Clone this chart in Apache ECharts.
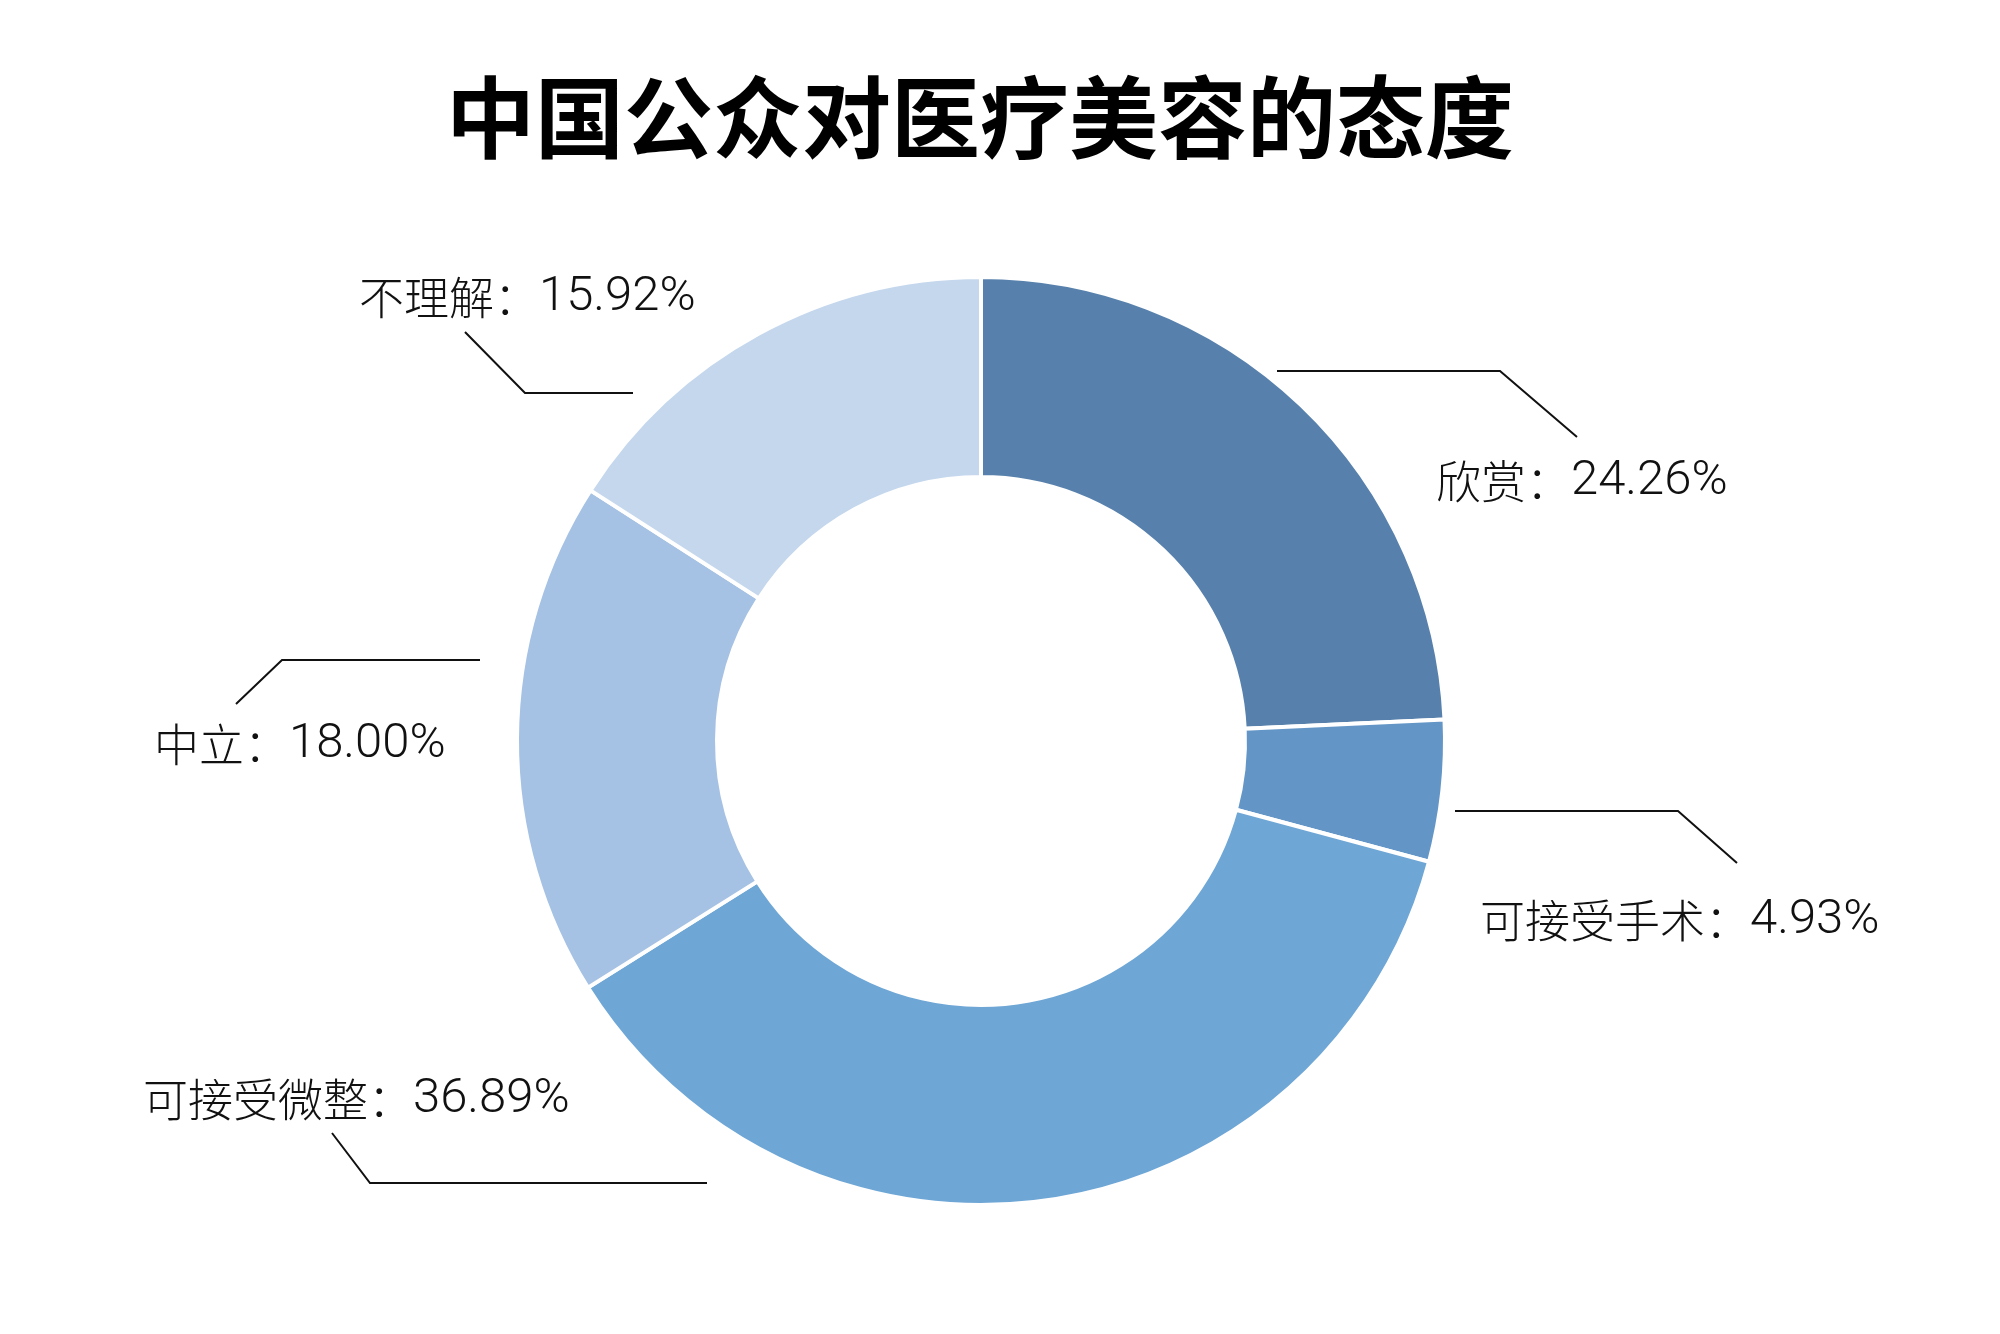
<!DOCTYPE html>
<html>
<head>
<meta charset="utf-8">
<script src="https://cdn.jsdelivr.net/npm/echarts@6/dist/echarts.min.js"></script>
<style>
html,body{margin:0;padding:0;background:#fff;}
#chart{width:2000px;height:1334px;}
</style>
</head>
<body>
<div id="chart"></div>
<script>
// ---- data ----
var titleText = '中国公众对医疗美容的态度';
var categories = ['欣赏', '可接受手术', '可接受微整', '中立', '不理解'];
var values = [24.26, 4.93, 36.89, 18.00, 15.92];
var colors = ['#5781ac', '#6396c7', '#6ea6d6', '#a5c1e3', '#c4d7ed'];

// ---- label layout (text anchor: left x, middle y; leader line points) ----
var labelPos = [
  { x: 1436, y: 482, line: [[1277, 371], [1500, 371], [1577, 437]] },
  { x: 1480, y: 921, line: [[1455, 811], [1678, 811], [1737, 863]] },
  { x: 143, y: 1100, line: [[332, 1133], [370, 1183], [707, 1183]] },
  { x: 154, y: 745, line: [[236, 704], [282, 660], [480, 660]] },
  { x: 359, y: 298, line: [[465, 332], [525, 393], [633, 393]] }
];

var chart = echarts.init(document.getElementById('chart'), null, { renderer: 'canvas' });

var pieData = categories.map(function (c, i) {
  return { name: c, value: values[i], itemStyle: { color: colors[i] } };
});

chart.setOption({
  backgroundColor: '#ffffff',
  animation: false,
  title: {
    text: titleText,
    left: 441,
    top: 68,
    textStyle: {
      fontFamily: '"Noto Sans CJK SC", sans-serif',
      fontWeight: 'bold',
      fontSize: 89,
      color: '#000000'
    }
  },
  series: [{
    type: 'pie',
    center: [981, 741],
    radius: [264, 464],
    startAngle: 90,
    clockwise: true,
    avoidLabelOverlap: false,
    itemStyle: { borderColor: '#ffffff', borderWidth: 4 },
    label: {
      show: true,
      formatter: function (p) { return '{a|' + p.name + '：}{b|' + p.value.toFixed(2) + '%}'; },
      color: '#111111',
      rich: {
        a: {
          fontFamily: '"Noto Sans CJK SC", sans-serif',
          fontWeight: 300,
          fontSize: 45,
          color: '#111111'
        },
        b: {
          fontFamily: 'Roboto, "Noto Sans CJK SC", sans-serif',
          fontWeight: 300,
          fontSize: 49,
          color: '#111111'
        }
      }
    },
    labelLine: {
      show: true,
      length: 20,
      length2: 20,
      lineStyle: { color: '#111111', width: 2 }
    },
    labelLayout: function (params) {
      var lp = labelPos[params.dataIndex];
      return {
        x: lp.x,
        y: lp.y,
        align: 'left',
        verticalAlign: 'middle',
        labelLinePoints: lp.line
      };
    },
    emphasis: { disabled: true },
    data: pieData
  }]
});
</script>
</body>
</html>
